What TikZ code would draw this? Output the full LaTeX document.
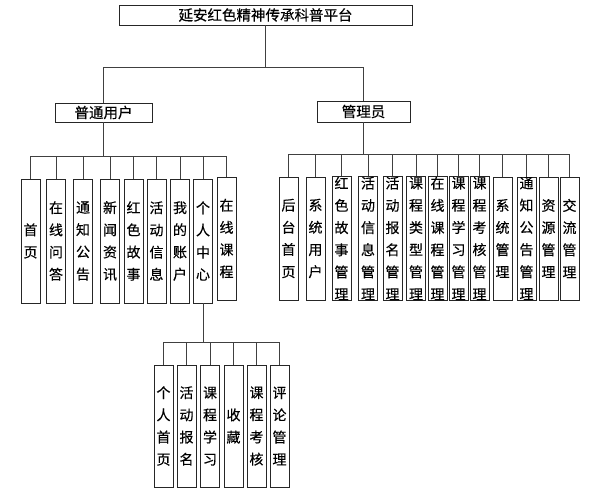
\documentclass[tikz,border=0pt]{standalone}
\usepackage{fontspec}
\setmainfont{Noto Sans CJK SC}[FakeBold=0.3]
\begin{document}
\begin{tikzpicture}[x=1pt,y=-1pt,
  box/.style={draw=black!85, line width=0.9pt, inner sep=0pt, font=\fontsize{14.5}{16}\selectfont},
  vbox/.style={draw=black!85, line width=0.9pt, inner sep=0pt, minimum width=19pt, align=center, font=\fontsize{14}{22.2}\selectfont},
  conn/.style={draw=black!75, line width=0.9pt}]
\useasboundingbox (0,0) rectangle (608,494);
% root
\node[box, minimum width=293pt, minimum height=20pt] (root) at (265.5,15) {延安红色精神传承科普平台};
\node[box, minimum width=97pt, minimum height=19pt] (user) at (103.5,112.5) {普通用户};
\node[box, minimum width=93pt, minimum height=21pt] (admin) at (363.5,111.5) {管理员};
\coordinate (bus0) at (0,67);
\draw[conn] (root.south) -- (root.south |- bus0);
\draw[conn] (user.north |- bus0) -- (admin.north |- bus0);
\draw[conn] (user.north) -- (user.north |- bus0);
\draw[conn] (admin.north) -- (admin.north |- bus0);
% left level 2
\coordinate (busL) at (0,156);
\node[vbox, minimum height=124pt] (l1) at (30.5,241) {首\\页};
\node[vbox, minimum height=124pt] (l2) at (56,241) {在\\线\\问\\答};
\node[vbox, minimum height=124pt] (l3) at (83,241) {通\\知\\公\\告};
\node[vbox, minimum height=124pt] (l4) at (110,241) {新\\闻\\资\\讯};
\node[vbox, minimum height=124pt] (l5) at (133.5,241) {红\\色\\故\\事};
\node[vbox, minimum height=124pt] (l6) at (156.5,241) {活\\动\\信\\息};
\node[vbox, minimum height=124pt] (l7) at (180,241) {我\\的\\账\\户};
\node[vbox, minimum height=124pt] (l8) at (203,241) {个\\人\\中\\心};
\node[vbox, minimum height=123pt] (l9) at (226.5,238.5) {在\\线\\课\\程};
\draw[conn] (user.south) -- (user.south |- busL);
\draw[conn] (l1.north |- busL) -- (l9.north |- busL);
\foreach \n in {l1,l2,l3,l4,l5,l6,l7,l8,l9} \draw[conn] (\n.north) -- (\n.north |- busL);
% right level 2
\coordinate (busR) at (0,154);
\node[vbox, minimum height=123pt] (r1) at (288.5,238.5) {后\\台\\首\\页};
\node[vbox, minimum height=123pt] (r2) at (315.5,238.5) {系\\统\\用\\户};
\node[vbox, minimum height=123pt] (r3) at (341.5,238.5) {红\\色\\故\\事\\管\\理};
\node[vbox, minimum height=123pt] (r4) at (368,238.5) {活\\动\\信\\息\\管\\理};
\node[vbox, minimum height=123pt] (r5) at (392.5,238.5) {活\\动\\报\\名\\管\\理};
\node[vbox, minimum height=123pt] (r6) at (416,238.5) {课\\程\\类\\型\\管\\理};
\node[vbox, minimum height=123pt] (r7) at (437.5,238.5) {在\\线\\课\\程\\管\\理};
\node[vbox, minimum height=123pt] (r8) at (458.5,238.5) {课\\程\\学\\习\\管\\理};
\node[vbox, minimum height=123pt] (r9) at (479.5,238.5) {课\\程\\考\\核\\管\\理};
\node[vbox, minimum height=123pt] (r10) at (502.5,238.5) {系\\统\\管\\理};
\node[vbox, minimum height=123pt] (r11) at (526.5,238.5) {通\\知\\公\\告\\管\\理};
\node[vbox, minimum height=123pt] (r12) at (548.5,238.5) {资\\源\\管\\理};
\node[vbox, minimum height=123pt] (r13) at (569.5,238.5) {交\\流\\管\\理};
\draw[conn] (admin.south) -- (admin.south |- busR);
\draw[conn] (r1.north |- busR) -- (r13.north |- busR);
\foreach \n in {r1,r2,r3,r4,r5,r6,r7,r8,r9,r10,r11,r12,r13} \draw[conn] (\n.north) -- (\n.north |- busR);
% bottom level 3
\coordinate (busB) at (0,342);
\node[vbox, minimum height=122pt] (b1) at (163.5,426) {个\\人\\首\\页};
\node[vbox, minimum height=122pt] (b2) at (186.5,426) {活\\动\\报\\名};
\node[vbox, minimum height=122pt] (b3) at (210,426) {课\\程\\学\\习};
\node[vbox, minimum height=122pt] (b4) at (233.5,426) {收\\藏};
\node[vbox, minimum height=122pt] (b5) at (256.5,426) {课\\程\\考\\核};
\node[vbox, minimum height=122pt] (b6) at (279.5,426) {评\\论\\管\\理};
\draw[conn] (l8.south) -- (l8.south |- busB);
\draw[conn] (b1.north |- busB) -- (b6.north |- busB);
\foreach \n in {b1,b2,b3,b4,b5,b6} \draw[conn] (\n.north) -- (\n.north |- busB);
\end{tikzpicture}
\end{document}
